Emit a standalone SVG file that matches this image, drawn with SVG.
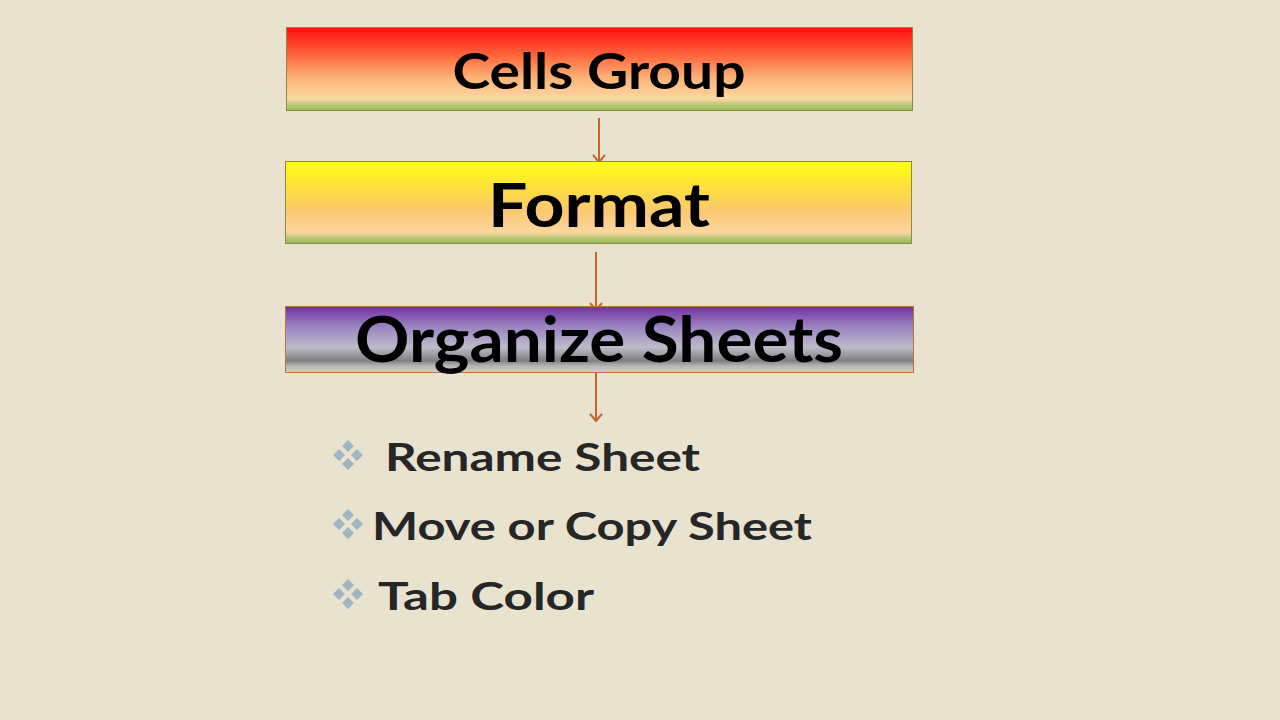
<svg xmlns="http://www.w3.org/2000/svg" width="1280" height="720" viewBox="0 0 1280 720">
<defs>
<linearGradient id="g1" x1="0" y1="0" x2="0" y2="1">
<stop offset="0" stop-color="#ff0d0d"/>
<stop offset="0.35" stop-color="#ff6a3f"/>
<stop offset="0.62" stop-color="#fbb67a"/>
<stop offset="0.86" stop-color="#fcd8a2"/>
<stop offset="0.93" stop-color="#b9c978"/>
<stop offset="1" stop-color="#9bbb59"/>
</linearGradient>
<linearGradient id="g2" x1="0" y1="0" x2="0" y2="1">
<stop offset="0" stop-color="#ffff10"/>
<stop offset="0.3" stop-color="#fde23a"/>
<stop offset="0.6" stop-color="#fbc86e"/>
<stop offset="0.86" stop-color="#fcd6a0"/>
<stop offset="0.93" stop-color="#b9c978"/>
<stop offset="1" stop-color="#9bbb59"/>
</linearGradient>
<linearGradient id="g3" x1="0" y1="0" x2="0" y2="1">
<stop offset="0" stop-color="#7030a0"/>
<stop offset="0.3" stop-color="#9a82c0"/>
<stop offset="0.62" stop-color="#bcbcca"/>
<stop offset="0.82" stop-color="#7f7f7f"/>
<stop offset="0.9" stop-color="#b4b4b4"/>
<stop offset="1" stop-color="#d0d0d0"/>
</linearGradient>
<marker id="arr" markerWidth="14" markerHeight="14" refX="12" refY="7" orient="auto" markerUnits="userSpaceOnUse" viewBox="0 0 14 14">
<polyline points="5,1 12,7 5,13" fill="none" stroke="#c5652e" stroke-width="2"/>
</marker>
<g id="bullet">
<path d="M0,-15 L6,-9 L0,-3 L-6,-9 Z M-9,-6 L-3,0 L-9,6 L-15,0 Z M9,-6 L15,0 L9,6 L3,0 Z M0,3 L6,9 L0,15 L-6,9 Z" fill="#9fb5c0"/>
</g>
</defs>
<style>
.hd{font-family:"Lato","Open Sans","Liberation Sans",sans-serif;font-weight:bold;fill:#000;text-anchor:middle}
.bl{font-family:"Lato","Open Sans","Liberation Sans",sans-serif;font-weight:bold;fill:#262626}
.cn{stroke:#c5652e;stroke-width:2;fill:none}
</style>
<rect width="1280" height="720" fill="#e8e2cf"/>
<g id="connectors">
<line class="cn" x1="599" y1="118" x2="599" y2="162" marker-end="url(#arr)"/>
<line class="cn" x1="596" y1="252" x2="596" y2="310" marker-end="url(#arr)"/>
<line class="cn" x1="596" y1="373" x2="596" y2="421" marker-end="url(#arr)"/>
</g>
<g id="node-cells-group">
<rect x="286.5" y="27.5" width="626" height="83" fill="url(#g1)" stroke="#8c8a40" stroke-width="1"/>
<text class="hd" x="599" y="89" font-size="50" textLength="293" lengthAdjust="spacingAndGlyphs">Cells Group</text>
</g>
<g id="node-format">
<rect x="285.5" y="161.5" width="626" height="82" fill="url(#g2)" stroke="#8c8a40" stroke-width="1"/>
<text class="hd" x="599" y="227" font-size="62" textLength="222" lengthAdjust="spacingAndGlyphs">Format</text>
</g>
<g id="node-organize-sheets">
<rect x="285.5" y="306.5" width="628" height="66" fill="url(#g3)" stroke="#c0703c" stroke-width="1"/>
<text class="hd" x="599" y="362" font-size="63" textLength="488" lengthAdjust="spacingAndGlyphs">Organize Sheets</text>
</g>
<g id="item-rename">
<use href="#bullet" x="348" y="455"/>
<text class="bl" x="385" y="471" font-size="38" textLength="315" lengthAdjust="spacingAndGlyphs">Rename Sheet</text>
</g>
<g id="item-move">
<use href="#bullet" x="348" y="524"/>
<text class="bl" x="372" y="540" font-size="38" textLength="440" lengthAdjust="spacingAndGlyphs">Move or Copy Sheet</text>
</g>
<g id="item-tab">
<use href="#bullet" x="348" y="594"/>
<text class="bl" x="378" y="610" font-size="38" textLength="216" lengthAdjust="spacingAndGlyphs">Tab Color</text>
</g>
</svg>
